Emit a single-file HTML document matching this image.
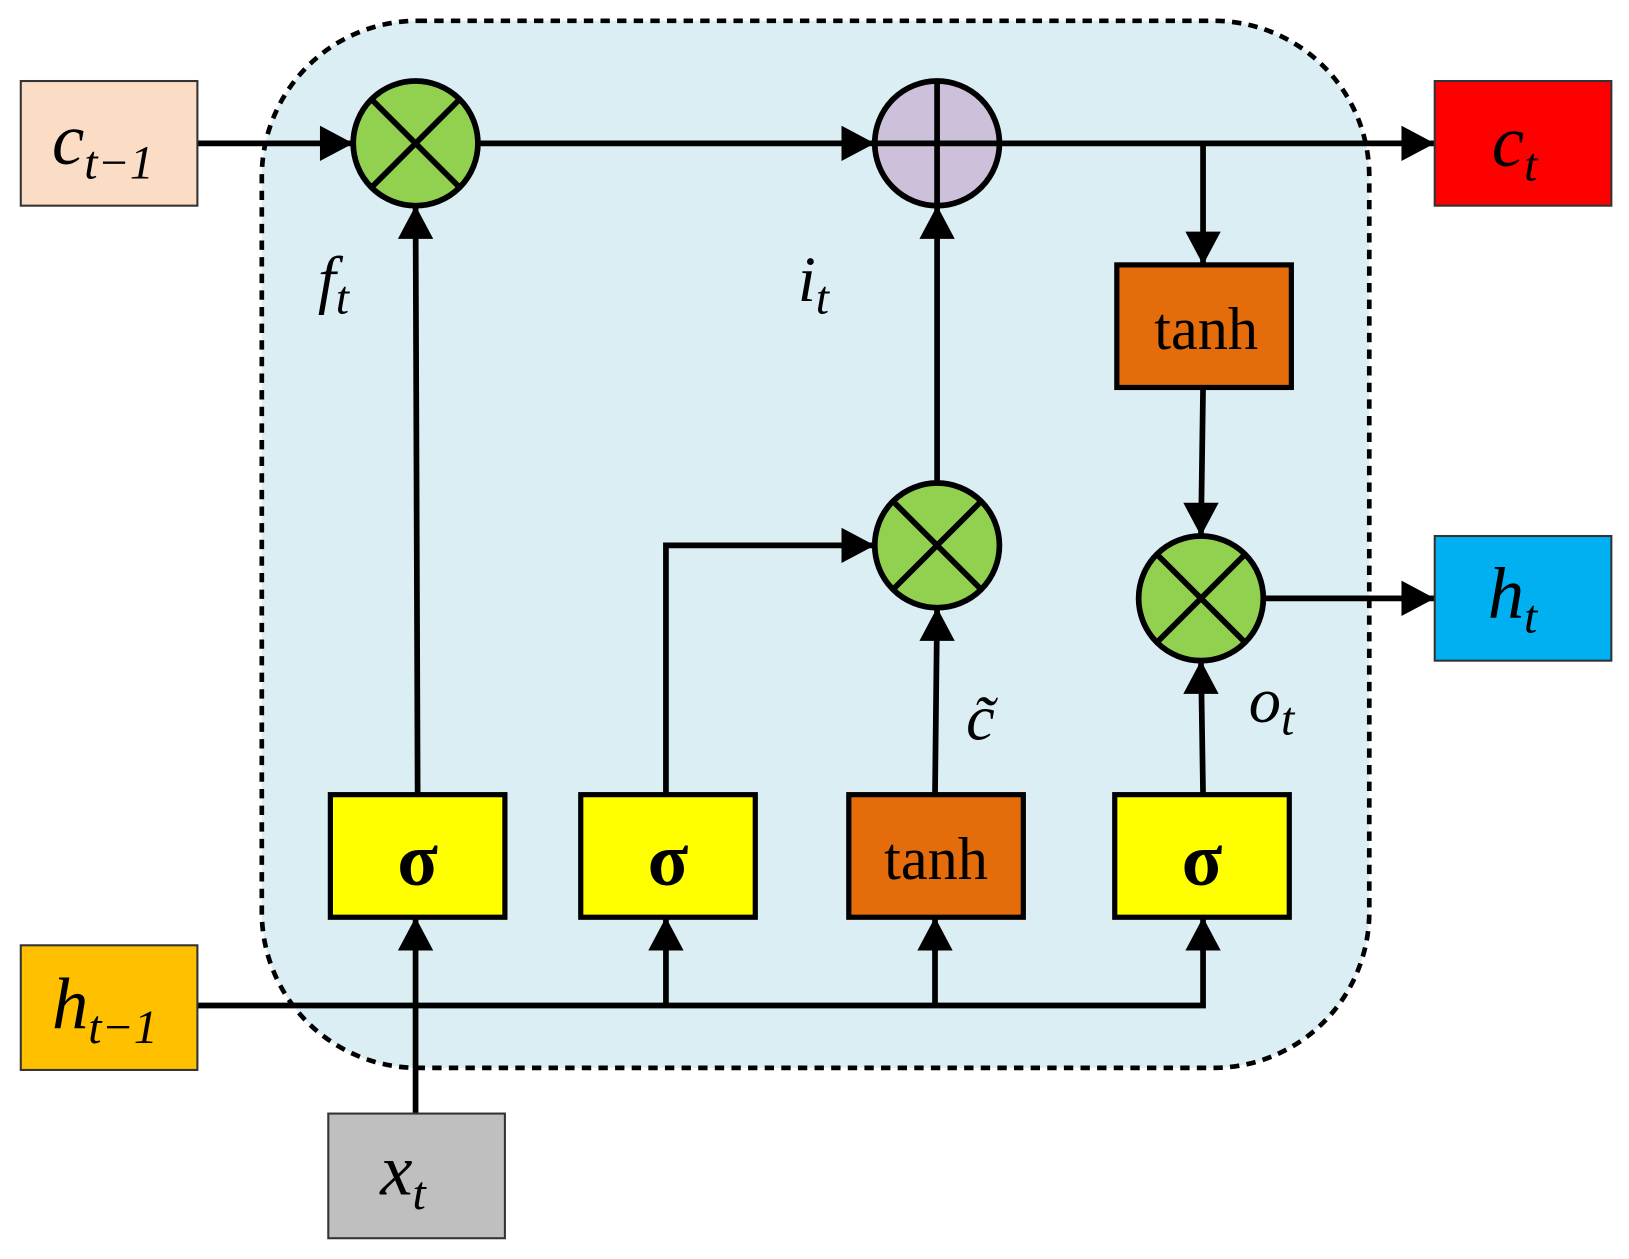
<!DOCTYPE html>
<html><head><style>html,body{margin:0;padding:0;background:#fff}svg{display:block}</style></head>
<body>
<svg width="1629" height="1259" viewBox="0 0 1568 1212" preserveAspectRatio="none" xmlns="http://www.w3.org/2000/svg" font-family="Liberation Serif, serif">
<style>.l{stroke:#000;stroke-width:5.5;fill:none}.b{stroke:#000;stroke-width:5}</style>
<rect x="252" y="20" width="1066" height="1008" rx="150" fill="#dbeef4" stroke="#000" stroke-width="4.5" stroke-dasharray="9,7"/>
<g class="l">
<line x1="190" y1="138" x2="340" y2="138"/>
<line x1="460" y1="138" x2="842" y2="138"/>
<line x1="962" y1="138" x2="1381" y2="138"/>
<line x1="1158" y1="138" x2="1158" y2="255"/>
<line x1="1158" y1="373" x2="1156" y2="516"/>
<line x1="1216" y1="576" x2="1381" y2="576"/>
<line x1="402" y1="765" x2="400" y2="198"/>
<polyline points="641,765 641,525 842,525"/>
<line x1="900" y1="765" x2="902" y2="585"/>
<line x1="902" y1="465" x2="902" y2="198"/>
<line x1="1158" y1="765" x2="1156" y2="636"/>
<polyline points="190,968 1158,968 1158,883"/>
<line x1="641" y1="968" x2="641" y2="883"/>
<line x1="900" y1="968" x2="900" y2="883"/>
<line x1="400" y1="1075" x2="400" y2="883"/>
</g>
<g fill="#000">
<path d="M340,138 l-32,-17 v34z"/>
<path d="M842,138 l-32,-17 v34z"/>
<path d="M1381,138 l-32,-17 v34z"/>
<path d="M1158,255 l-17,-32 h34z"/>
<path d="M1156,516 l-17,-32 h34z"/>
<path d="M1381,576 l-32,-17 v34z"/>
<path d="M842,525 l-32,-17 v34z"/>
<path d="M400,198 l-17,32 h34z"/>
<path d="M902,585 l-17,32 h34z"/>
<path d="M902,198 l-17,32 h34z"/>
<path d="M1156,636 l-17,32 h34z"/>
<path d="M641,883 l-17,32 h34z"/>
<path d="M900,883 l-17,32 h34z"/>
<path d="M1158,883 l-17,32 h34z"/>
<path d="M400,883 l-17,32 h34z"/>
</g>
<g stroke="#000" stroke-width="5.5">
<circle cx="400" cy="138" r="60" fill="#92d050"/>
<line x1="358" y1="96" x2="442" y2="180"/><line x1="442" y1="96" x2="358" y2="180"/>
<circle cx="902" cy="138" r="60" fill="#ccc0da"/>
<line x1="902" y1="78" x2="902" y2="198"/><line x1="842" y1="138" x2="962" y2="138"/>
<circle cx="902" cy="525" r="60" fill="#92d050"/>
<line x1="860" y1="483" x2="944" y2="567"/><line x1="944" y1="483" x2="860" y2="567"/>
<circle cx="1156" cy="576" r="60" fill="#92d050"/>
<line x1="1114" y1="534" x2="1198" y2="618"/><line x1="1198" y1="534" x2="1114" y2="618"/>
</g>
<rect class="b" x="318" y="765" width="168" height="118" fill="#ffff00"/>
<rect class="b" x="559" y="765" width="168" height="118" fill="#ffff00"/>
<rect class="b" x="817" y="765" width="168" height="118" fill="#e46c0a"/>
<rect class="b" x="1073" y="765" width="168" height="118" fill="#ffff00"/>
<rect class="b" x="1075" y="255" width="168" height="118" fill="#e46c0a"/>
<rect x="20" y="78" width="170" height="120" fill="#fbdcc4" stroke="#333" stroke-width="2"/>
<rect x="20" y="910" width="170" height="120" fill="#ffc000" stroke="#333" stroke-width="2"/>
<rect x="316" y="1072" width="170" height="120" fill="#bfbfbf" stroke="#333" stroke-width="2"/>
<rect x="1381" y="78" width="170" height="120" fill="#ff0000" stroke="#333" stroke-width="2"/>
<rect x="1381" y="516" width="170" height="120" fill="#00b0f0" stroke="#333" stroke-width="2"/>
<g font-size="72" font-weight="bold" text-anchor="middle">
<text x="402" y="852">σ</text><text x="643" y="852">σ</text><text x="1157" y="852">σ</text>
</g>
<g font-size="58" text-anchor="middle">
<text x="901" y="846">tanh</text><text x="1161" y="336">tanh</text>
</g>
<g font-style="italic" font-size="70">
<text x="50" y="158">c<tspan font-size="46" dy="14">t−1</tspan></text>
<text x="50" y="990">h<tspan font-size="46" dy="14">t−1</tspan></text>
<text x="366" y="1150">x<tspan font-size="46" dy="14">t</tspan></text>
<text x="1436" y="160">c<tspan font-size="46" dy="14">t</tspan></text>
<text x="1432" y="595">h<tspan font-size="46" dy="14">t</tspan></text>
</g>
<g font-style="italic" font-size="62">
<text x="306" y="290">f<tspan font-size="46" dy="12">t</tspan></text>
<text x="768" y="290">i<tspan font-size="46" dy="12">t</tspan></text>
<text x="930" y="712">c̃</text>
<text x="1202" y="695">o<tspan font-size="46" dy="12">t</tspan></text>
</g>
</svg>
</body></html>
